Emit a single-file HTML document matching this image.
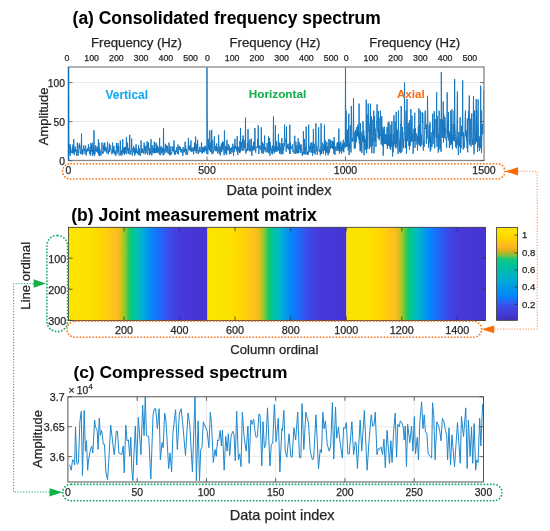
<!DOCTYPE html>
<html><head><meta charset="utf-8"><style>html,body{margin:0;padding:0;background:#fff;overflow:hidden}svg{display:block}</style></head><body>
<svg width="550" height="531" viewBox="0 0 550 531" font-family="'Liberation Sans', Arial, Helvetica, sans-serif">
<defs>
<clipPath id="clipA"><rect x="68.5" y="67" width="415.8" height="93.5"/></clipPath>
<clipPath id="clipC"><rect x="67.9" y="396.8" width="415.6" height="85.2"/></clipPath>
<linearGradient id="gm" x1="0" y1="0" x2="1" y2="0"><stop offset="0.0" stop-color="#FAE400"/><stop offset="0.083" stop-color="#FCE400"/><stop offset="0.155" stop-color="#FBE200"/><stop offset="0.227" stop-color="#FFD800"/><stop offset="0.285" stop-color="#FFCC10"/><stop offset="0.335" stop-color="#FFC020"/><stop offset="0.35" stop-color="#FBBE20"/><stop offset="0.368" stop-color="#E8C018"/><stop offset="0.386" stop-color="#C0C420"/><stop offset="0.405" stop-color="#90C830"/><stop offset="0.423" stop-color="#50CA48"/><stop offset="0.44" stop-color="#18CC68"/><stop offset="0.455" stop-color="#08C880"/><stop offset="0.473" stop-color="#00C4A0"/><stop offset="0.502" stop-color="#00BCC0"/><stop offset="0.53" stop-color="#00B0D4"/><stop offset="0.566" stop-color="#0098EC"/><stop offset="0.602" stop-color="#0884FA"/><stop offset="0.639" stop-color="#1472FC"/><stop offset="0.675" stop-color="#2862F6"/><stop offset="0.711" stop-color="#3850EE"/><stop offset="0.747" stop-color="#4044E4"/><stop offset="0.805" stop-color="#463ADA"/><stop offset="0.913" stop-color="#4636D6"/><stop offset="1.0" stop-color="#4634D4"/></linearGradient>
<linearGradient id="gc" x1="0" y1="0" x2="0" y2="1"><stop offset="0.0" stop-color="#FFE400"/><stop offset="0.06" stop-color="#FFE000"/><stop offset="0.13" stop-color="#FFD000"/><stop offset="0.18" stop-color="#FFBC20"/><stop offset="0.22" stop-color="#F8B420"/><stop offset="0.265" stop-color="#C8B020"/><stop offset="0.3" stop-color="#80C040"/><stop offset="0.345" stop-color="#10C880"/><stop offset="0.42" stop-color="#00C0A0"/><stop offset="0.49" stop-color="#00B8B8"/><stop offset="0.534" stop-color="#00B0C8"/><stop offset="0.588" stop-color="#00A8D8"/><stop offset="0.642" stop-color="#0098E8"/><stop offset="0.695" stop-color="#0090F0"/><stop offset="0.749" stop-color="#0880F8"/><stop offset="0.803" stop-color="#2864F4"/><stop offset="0.857" stop-color="#3C48E8"/><stop offset="0.91" stop-color="#4040D8"/><stop offset="0.964" stop-color="#4434C8"/><stop offset="1.0" stop-color="#4230B8"/></linearGradient>
</defs>
<style>text{stroke-width:0.25px}text[font-weight="bold"]{stroke-width:0.05px}</style>
<rect width="550" height="531" fill="#fff"/>
<text x="72.6" y="23.8" font-size="17.45" font-weight="bold" fill="#000" stroke="#000">(a) Consolidated frequency spectrum</text>
<text x="136.4" y="47" font-size="13.2" text-anchor="middle" fill="#262626" stroke="#262626">Frequency (Hz)</text>
<text x="275.0" y="47" font-size="13.2" text-anchor="middle" fill="#262626" stroke="#262626">Frequency (Hz)</text>
<text x="414.7" y="47" font-size="13.2" text-anchor="middle" fill="#262626" stroke="#262626">Frequency (Hz)</text>
<text x="66.90" y="61" font-size="8.8" text-anchor="middle" fill="#262626" stroke="#262626">0</text>
<text x="91.65" y="61" font-size="8.8" text-anchor="middle" fill="#262626" stroke="#262626">100</text>
<text x="116.40" y="61" font-size="8.8" text-anchor="middle" fill="#262626" stroke="#262626">200</text>
<text x="141.15" y="61" font-size="8.8" text-anchor="middle" fill="#262626" stroke="#262626">300</text>
<text x="165.90" y="61" font-size="8.8" text-anchor="middle" fill="#262626" stroke="#262626">400</text>
<text x="190.65" y="61" font-size="8.8" text-anchor="middle" fill="#262626" stroke="#262626">500</text>
<text x="207.40" y="61" font-size="8.8" text-anchor="middle" fill="#262626" stroke="#262626">0</text>
<text x="232.15" y="61" font-size="8.8" text-anchor="middle" fill="#262626" stroke="#262626">100</text>
<text x="256.90" y="61" font-size="8.8" text-anchor="middle" fill="#262626" stroke="#262626">200</text>
<text x="281.65" y="61" font-size="8.8" text-anchor="middle" fill="#262626" stroke="#262626">300</text>
<text x="306.40" y="61" font-size="8.8" text-anchor="middle" fill="#262626" stroke="#262626">400</text>
<text x="331.15" y="61" font-size="8.8" text-anchor="middle" fill="#262626" stroke="#262626">500</text>
<text x="346.10" y="61" font-size="8.8" text-anchor="middle" fill="#262626" stroke="#262626">0</text>
<text x="370.85" y="61" font-size="8.8" text-anchor="middle" fill="#262626" stroke="#262626">100</text>
<text x="395.60" y="61" font-size="8.8" text-anchor="middle" fill="#262626" stroke="#262626">200</text>
<text x="420.35" y="61" font-size="8.8" text-anchor="middle" fill="#262626" stroke="#262626">300</text>
<text x="445.10" y="61" font-size="8.8" text-anchor="middle" fill="#262626" stroke="#262626">400</text>
<text x="469.85" y="61" font-size="8.8" text-anchor="middle" fill="#262626" stroke="#262626">500</text>
<line x1="68.5" x2="484.0" y1="121.54" y2="121.54" stroke="#e4e4e4" stroke-width="0.8"/>
<line x1="68.5" x2="484.0" y1="82.58" y2="82.58" stroke="#e4e4e4" stroke-width="0.8"/>
<polyline clip-path="url(#clipA)" points="68.50,64.00 68.78,149.69 69.05,151.45 69.33,150.14 69.61,153.50 69.89,144.04 70.16,155.93 70.44,145.15 70.72,151.42 70.99,152.86 71.27,151.58 71.55,152.79 71.82,150.12 72.10,149.53 72.38,147.23 72.66,153.38 72.93,144.49 73.21,150.74 73.49,152.57 73.76,139.23 74.04,154.73 74.32,154.93 74.59,149.05 74.87,150.60 75.15,146.48 75.42,151.89 75.70,151.67 75.98,149.18 76.26,151.65 76.53,155.59 76.81,152.90 77.09,149.72 77.36,142.58 77.64,148.53 77.92,155.98 78.19,150.11 78.47,153.19 78.75,152.53 79.03,144.62 79.30,148.51 79.58,143.29 79.86,147.57 80.13,146.37 80.41,154.00 80.69,152.85 80.97,153.27 81.24,149.28 81.52,133.46 81.80,154.17 82.07,152.37 82.35,149.54 82.63,154.81 82.90,154.46 83.18,150.23 83.46,147.25 83.73,145.39 84.01,150.86 84.29,148.80 84.57,150.63 84.84,149.99 85.12,154.00 85.40,145.81 85.67,145.70 85.95,150.21 86.23,155.50 86.50,149.49 86.78,149.56 87.06,149.56 87.34,151.45 87.61,148.63 87.89,148.03 88.17,151.10 88.44,144.29 88.72,147.70 89.00,151.00 89.28,150.68 89.55,154.32 89.83,153.22 90.11,146.83 90.38,150.78 90.66,155.53 90.94,142.97 91.21,151.81 91.49,144.87 91.77,150.33 92.05,149.85 92.32,152.10 92.60,155.65 92.88,142.58 93.15,151.92 93.43,146.78 93.71,153.98 93.98,130.27 94.26,155.78 94.54,150.27 94.81,154.53 95.09,153.66 95.37,147.99 95.65,145.48 95.92,150.98 96.20,148.36 96.48,149.50 96.75,151.89 97.03,146.40 97.31,147.34 97.59,152.61 97.86,150.79 98.14,149.28 98.42,139.23 98.69,154.64 98.97,142.58 99.25,156.15 99.52,148.51 99.80,148.86 100.08,152.96 100.36,150.97 100.63,152.43 100.91,155.73 101.19,150.47 101.46,149.12 101.74,149.28 102.02,142.58 102.29,153.80 102.57,153.62 102.85,151.38 103.12,153.45 103.40,151.53 103.68,145.19 103.96,148.69 104.23,142.97 104.51,150.70 104.79,142.58 105.06,151.55 105.34,149.34 105.62,147.23 105.90,148.97 106.17,149.08 106.45,147.83 106.73,153.19 107.00,151.29 107.28,148.61 107.56,141.80 107.83,146.45 108.11,154.33 108.39,151.55 108.66,152.59 108.94,149.52 109.22,151.88 109.50,143.62 109.77,150.13 110.05,145.42 110.33,147.71 110.60,149.27 110.88,149.08 111.16,151.34 111.44,152.72 111.71,153.10 111.99,154.30 112.27,146.22 112.54,142.58 112.82,152.85 113.10,148.75 113.37,151.55 113.65,150.05 113.93,145.88 114.20,153.34 114.48,150.19 114.76,154.45 115.04,152.23 115.31,151.18 115.59,153.03 115.87,155.86 116.14,152.61 116.42,142.97 116.70,148.84 116.97,151.53 117.25,153.48 117.53,146.46 117.81,148.64 118.08,143.06 118.36,151.93 118.64,146.53 118.91,155.03 119.19,155.19 119.47,155.47 119.75,155.02 120.02,152.05 120.30,140.48 120.58,148.10 120.85,155.38 121.13,151.79 121.41,153.46 121.68,150.34 121.96,155.46 122.24,151.54 122.52,144.99 122.79,139.23 123.07,152.44 123.35,147.96 123.62,150.87 123.90,153.78 124.18,147.60 124.45,154.74 124.73,147.94 125.01,146.95 125.28,149.79 125.56,152.55 125.84,146.96 126.12,154.26 126.39,137.28 126.67,148.60 126.95,149.84 127.22,150.35 127.50,142.58 127.78,150.59 128.06,153.29 128.33,151.15 128.61,148.25 128.89,153.95 129.16,148.22 129.44,145.14 129.72,134.79 129.99,154.62 130.27,152.96 130.55,152.10 130.82,150.78 131.10,151.67 131.38,147.19 131.66,138.53 131.93,153.10 132.21,155.41 132.49,153.05 132.76,153.03 133.04,148.26 133.32,152.40 133.59,145.89 133.87,150.01 134.15,149.21 134.43,147.94 134.70,155.66 134.98,149.98 135.26,154.05 135.53,150.11 135.81,147.94 136.09,144.29 136.37,152.68 136.64,148.57 136.92,151.45 137.20,153.31 137.47,152.01 137.75,151.28 138.03,154.46 138.30,150.06 138.58,145.05 138.86,151.86 139.13,155.32 139.41,148.45 139.69,153.34 139.97,154.62 140.24,154.14 140.52,155.55 140.80,151.91 141.07,140.48 141.35,153.02 141.63,148.46 141.91,150.43 142.18,152.40 142.46,150.85 142.74,148.61 143.01,152.62 143.29,151.32 143.57,153.58 143.84,152.72 144.12,142.58 144.40,150.19 144.68,150.99 144.95,145.64 145.23,154.36 145.51,147.26 145.78,146.31 146.06,152.86 146.34,148.47 146.61,147.05 146.89,146.55 147.17,141.18 147.44,154.65 147.72,154.36 148.00,143.99 148.28,147.75 148.55,142.58 148.83,150.16 149.11,147.88 149.38,155.21 149.66,149.05 149.94,152.32 150.22,150.90 150.49,154.19 150.77,146.09 151.05,139.23 151.32,151.28 151.60,151.20 151.88,155.42 152.15,145.11 152.43,151.30 152.71,152.41 152.99,152.51 153.26,147.72 153.54,151.58 153.82,153.06 154.09,143.54 154.37,141.80 154.65,153.41 154.92,148.56 155.20,148.26 155.48,151.74 155.75,152.90 156.03,142.58 156.31,152.65 156.59,152.00 156.86,144.58 157.14,152.17 157.42,152.69 157.69,146.41 157.97,150.71 158.25,149.81 158.53,151.90 158.80,147.71 159.08,154.20 159.36,147.30 159.63,137.90 159.91,152.58 160.19,155.34 160.46,147.12 160.74,147.52 161.02,146.34 161.30,152.63 161.57,153.59 161.85,147.57 162.13,151.83 162.40,147.88 162.68,151.84 162.96,151.65 163.23,155.42 163.51,128.09 163.79,152.42 164.06,154.51 164.34,149.18 164.62,151.05 164.90,152.24 165.17,147.32 165.45,143.83 165.73,150.05 166.00,152.91 166.28,148.71 166.56,145.42 166.83,148.33 167.11,151.69 167.39,145.94 167.67,149.65 167.94,153.60 168.22,153.33 168.50,153.76 168.77,147.87 169.05,142.58 169.33,147.65 169.61,155.10 169.88,150.37 170.16,146.12 170.44,151.14 170.71,155.33 170.99,152.66 171.27,152.60 171.54,153.72 171.82,152.76 172.10,146.66 172.38,149.03 172.65,151.10 172.93,146.83 173.21,146.37 173.48,151.43 173.76,150.03 174.04,140.48 174.31,153.45 174.59,150.99 174.87,154.90 175.14,150.91 175.42,154.28 175.70,151.31 175.98,150.14 176.25,151.65 176.53,147.51 176.81,151.40 177.08,151.29 177.36,153.81 177.64,150.21 177.92,144.53 178.19,146.56 178.47,154.35 178.75,147.55 179.02,148.69 179.30,147.11 179.58,146.06 179.85,149.48 180.13,150.30 180.41,147.13 180.69,148.60 180.96,152.28 181.24,148.88 181.52,152.21 181.79,149.09 182.07,151.10 182.35,152.52 182.62,152.15 182.90,155.87 183.18,147.06 183.45,151.19 183.73,152.32 184.01,151.15 184.29,148.75 184.56,150.63 184.84,152.18 185.12,141.80 185.39,149.96 185.67,146.00 185.95,154.51 186.22,149.85 186.50,150.27 186.78,148.90 187.06,155.00 187.33,152.54 187.61,153.85 187.89,151.75 188.16,146.69 188.44,137.90 188.72,149.17 189.00,146.27 189.27,149.90 189.55,150.16 189.83,145.58 190.10,147.65 190.38,150.91 190.66,147.18 190.93,140.48 191.21,151.71 191.49,149.49 191.76,147.88 192.04,151.61 192.32,148.93 192.60,150.32 192.87,150.95 193.15,147.06 193.43,153.38 193.70,154.34 193.98,149.11 194.26,150.39 194.53,142.58 194.81,149.86 195.09,146.45 195.37,151.08 195.64,136.58 195.92,149.55 196.20,153.19 196.47,151.65 196.75,144.23 197.03,151.33 197.31,151.22 197.58,139.93 197.86,146.06 198.14,154.02 198.41,151.48 198.69,153.12 198.97,152.09 199.24,149.34 199.52,151.42 199.80,146.82 200.07,149.00 200.35,152.01 200.63,151.42 200.91,151.89 201.18,150.27 201.46,142.50 201.74,143.36 202.01,153.61 202.29,148.38 202.57,152.96 202.84,147.09 203.12,149.23 203.40,151.74 203.68,150.18 203.95,147.02 204.23,152.34 204.51,146.94 204.78,150.08 205.06,145.61 205.34,147.83 205.62,149.86 205.89,151.20 206.17,147.68 206.45,147.25 206.72,153.95 207.00,64.00 207.28,119.98 207.55,126.22 207.83,154.33 208.11,138.81 208.38,148.77 208.66,146.50 208.94,142.11 209.22,147.46 209.49,150.41 209.77,130.50 210.05,143.18 210.32,150.24 210.60,151.52 210.88,142.85 211.16,152.28 211.43,144.81 211.71,129.80 211.99,154.17 212.26,142.36 212.54,140.40 212.82,143.91 213.09,149.14 213.37,153.33 213.65,150.98 213.93,149.21 214.20,137.51 214.48,136.35 214.76,150.01 215.03,150.40 215.31,150.86 215.59,145.88 215.86,149.35 216.14,151.30 216.42,150.21 216.69,143.48 216.97,150.50 217.25,147.07 217.53,153.41 217.80,152.45 218.08,151.95 218.36,151.58 218.63,134.87 218.91,145.05 219.19,153.91 219.47,152.82 219.74,149.90 220.02,146.19 220.30,155.41 220.57,147.92 220.85,149.59 221.13,150.49 221.40,143.45 221.68,152.06 221.96,149.47 222.24,149.67 222.51,141.33 222.79,145.10 223.07,149.66 223.34,142.07 223.62,145.20 223.90,150.98 224.17,155.20 224.45,130.50 224.73,144.64 225.00,146.78 225.28,153.39 225.56,146.37 225.84,149.54 226.11,152.27 226.39,146.71 226.67,154.88 226.94,139.81 227.22,146.94 227.50,149.12 227.78,150.25 228.05,150.59 228.33,144.26 228.61,145.79 228.88,150.10 229.16,146.13 229.44,154.21 229.71,149.06 229.99,149.56 230.27,148.00 230.54,150.45 230.82,153.99 231.10,152.19 231.38,151.91 231.65,147.21 231.93,151.93 232.21,152.24 232.48,146.43 232.76,143.70 233.04,145.28 233.31,151.71 233.59,155.71 233.87,147.70 234.15,145.89 234.42,151.64 234.70,145.96 234.98,138.96 235.25,149.08 235.53,148.33 235.81,146.35 236.09,147.04 236.36,146.94 236.64,151.26 236.92,151.11 237.19,136.19 237.47,150.66 237.75,155.00 238.02,146.47 238.30,149.92 238.58,151.34 238.85,147.47 239.13,150.02 239.41,152.99 239.69,148.31 239.96,140.92 240.24,152.48 240.52,127.93 240.79,148.76 241.07,149.66 241.35,147.80 241.62,142.03 241.90,144.52 242.18,150.76 242.46,139.15 242.73,143.11 243.01,135.57 243.29,140.46 243.56,147.82 243.84,150.78 244.12,140.17 244.40,147.52 244.67,143.59 244.95,148.31 245.23,144.88 245.50,117.72 245.78,153.58 246.06,151.13 246.33,151.60 246.61,148.69 246.89,150.53 247.16,150.98 247.44,143.23 247.72,150.54 248.00,129.18 248.27,139.95 248.55,147.64 248.83,149.85 249.10,149.21 249.38,151.25 249.66,150.31 249.94,139.47 250.21,149.54 250.49,145.96 250.77,151.46 251.04,148.44 251.32,138.68 251.60,146.47 251.87,155.80 252.15,149.18 252.43,150.09 252.71,146.17 252.98,150.69 253.26,148.02 253.54,141.92 253.81,148.57 254.09,150.10 254.37,141.51 254.64,149.05 254.92,127.93 255.20,144.53 255.47,151.33 255.75,152.64 256.03,148.05 256.31,147.04 256.58,147.55 256.86,146.66 257.14,147.81 257.41,146.14 257.69,138.96 257.97,147.69 258.25,125.44 258.52,148.18 258.80,154.01 259.08,149.32 259.35,146.28 259.63,148.47 259.91,145.50 260.18,146.97 260.46,149.02 260.74,148.56 261.01,150.28 261.29,127.31 261.57,149.97 261.85,153.10 262.12,144.03 262.40,142.68 262.68,142.18 262.95,153.97 263.23,143.81 263.51,146.66 263.78,152.26 264.06,150.28 264.34,150.01 264.62,135.57 264.89,148.97 265.17,150.13 265.45,150.10 265.72,147.05 266.00,152.40 266.28,151.67 266.56,151.01 266.83,150.00 267.11,143.01 267.39,147.24 267.66,152.32 267.94,146.50 268.22,145.76 268.49,136.35 268.77,153.25 269.05,145.61 269.32,147.69 269.60,138.06 269.88,155.82 270.16,142.16 270.43,151.13 270.71,145.93 270.99,148.45 271.26,147.91 271.54,151.72 271.82,153.43 272.10,151.55 272.37,154.33 272.65,145.52 272.93,151.21 273.20,146.93 273.48,116.48 273.76,151.24 274.03,150.55 274.31,153.40 274.59,146.18 274.87,149.16 275.14,152.05 275.42,125.28 275.70,150.20 275.97,148.78 276.25,149.06 276.53,141.38 276.80,152.02 277.08,147.08 277.36,148.46 277.63,150.59 277.91,145.63 278.19,143.96 278.47,133.77 278.74,150.76 279.02,142.49 279.30,149.85 279.57,153.73 279.85,143.07 280.13,144.34 280.40,151.32 280.68,147.78 280.96,154.19 281.24,148.87 281.51,145.48 281.79,138.04 282.07,154.29 282.34,143.63 282.62,146.05 282.90,153.85 283.18,146.56 283.45,148.91 283.73,150.17 284.01,142.82 284.28,146.39 284.56,124.66 284.84,136.35 285.11,141.75 285.39,141.69 285.67,139.66 285.94,143.18 286.22,151.91 286.50,126.61 286.78,148.28 287.05,148.03 287.33,144.52 287.61,147.06 287.88,148.50 288.16,143.71 288.44,149.49 288.72,147.90 288.99,147.74 289.27,147.34 289.55,153.90 289.82,124.66 290.10,153.80 290.38,142.21 290.65,148.25 290.93,145.87 291.21,147.71 291.49,148.73 291.76,149.10 292.04,148.87 292.32,146.23 292.59,144.38 292.87,151.25 293.15,150.14 293.42,152.27 293.70,151.00 293.98,153.36 294.25,141.10 294.53,138.28 294.81,135.80 295.09,146.19 295.36,154.00 295.64,147.62 295.92,141.76 296.19,152.10 296.47,153.20 296.75,147.87 297.02,145.12 297.30,152.78 297.58,149.45 297.86,153.46 298.13,138.37 298.41,152.83 298.69,150.62 298.96,152.45 299.24,142.20 299.52,148.36 299.79,149.19 300.07,144.75 300.35,145.61 300.63,153.02 300.90,148.16 301.18,144.45 301.46,149.91 301.73,148.88 302.01,154.01 302.29,155.63 302.56,153.92 302.84,151.84 303.12,154.10 303.40,131.20 303.67,145.23 303.95,152.60 304.23,154.56 304.50,139.07 304.78,143.91 305.06,153.65 305.34,146.94 305.61,154.09 305.89,149.47 306.17,126.61 306.44,147.68 306.72,150.29 307.00,154.72 307.27,152.01 307.55,154.91 307.83,154.04 308.11,151.35 308.38,154.31 308.66,124.66 308.94,143.18 309.21,147.72 309.49,146.83 309.77,152.18 310.04,150.18 310.32,146.10 310.60,149.38 310.88,142.77 311.15,152.67 311.43,152.08 311.71,149.08 311.98,142.11 312.26,147.75 312.54,155.68 312.81,145.73 313.09,153.13 313.37,129.18 313.64,142.31 313.92,148.38 314.20,143.82 314.48,153.13 314.75,149.75 315.03,154.46 315.31,148.79 315.58,146.44 315.86,123.26 316.14,140.07 316.41,151.31 316.69,148.99 316.97,146.50 317.25,154.71 317.52,151.45 317.80,149.44 318.08,147.79 318.35,139.92 318.63,127.31 318.91,147.13 319.19,151.72 319.46,149.53 319.74,150.73 320.02,149.37 320.29,155.26 320.57,152.02 320.85,144.25 321.12,123.26 321.40,153.86 321.68,146.86 321.96,151.47 322.23,144.77 322.51,142.64 322.79,145.31 323.06,150.63 323.34,154.01 323.62,147.36 323.89,144.18 324.17,149.76 324.45,124.66 324.73,141.97 325.00,150.91 325.28,140.36 325.56,155.32 325.83,146.21 326.11,150.10 326.39,152.71 326.66,146.35 326.94,141.95 327.22,152.45 327.50,147.64 327.77,146.45 328.05,155.38 328.33,150.45 328.60,152.65 328.88,139.00 329.16,148.34 329.43,153.11 329.71,149.95 329.99,139.66 330.26,148.81 330.54,147.22 330.82,140.28 331.10,147.26 331.37,147.77 331.65,146.34 331.93,147.95 332.20,140.89 332.48,148.64 332.76,141.27 333.04,145.98 333.31,149.25 333.59,141.55 333.87,153.89 334.14,137.12 334.42,146.30 334.70,148.87 334.97,154.80 335.25,146.55 335.53,146.29 335.81,148.42 336.08,151.05 336.36,148.08 336.64,146.67 336.91,145.05 337.19,142.74 337.47,149.55 337.74,142.20 338.02,151.07 338.30,142.49 338.57,148.79 338.85,128.55 339.13,146.09 339.41,153.48 339.68,142.86 339.96,148.82 340.24,151.38 340.51,146.80 340.79,141.53 341.07,143.08 341.35,152.80 341.62,153.57 341.90,146.08 342.18,150.33 342.45,147.17 342.73,143.52 343.01,151.15 343.28,139.70 343.56,151.10 343.84,152.32 344.12,147.50 344.39,142.20 344.67,146.91 344.95,143.86 345.22,147.77 345.50,64.00 345.78,142.50 346.05,110.63 346.33,146.85 346.61,135.66 346.88,141.58 347.16,130.36 347.44,140.36 347.72,146.95 347.99,128.93 348.27,150.74 348.55,130.29 348.82,113.71 349.10,155.01 349.38,142.33 349.65,147.82 349.93,149.03 350.21,125.41 350.49,135.17 350.76,141.75 351.04,152.47 351.32,105.96 351.59,122.01 351.87,141.14 352.15,141.70 352.43,138.10 352.70,141.42 352.98,137.44 353.26,127.94 353.53,98.17 353.81,140.48 354.09,142.30 354.36,148.91 354.64,132.83 354.92,131.80 355.19,148.35 355.47,140.42 355.75,129.95 356.03,139.90 356.30,142.38 356.58,134.47 356.86,127.13 357.13,135.92 357.41,126.97 357.69,136.16 357.96,124.55 358.24,137.60 358.52,131.72 358.80,139.49 359.07,103.62 359.35,143.56 359.63,133.51 359.90,143.91 360.18,151.38 360.46,123.20 360.74,150.13 361.01,131.52 361.29,148.29 361.57,142.41 361.84,152.93 362.12,137.92 362.40,133.82 362.67,142.12 362.95,121.12 363.23,132.73 363.50,141.91 363.78,130.44 364.06,155.24 364.34,135.77 364.61,141.39 364.89,149.88 365.17,139.52 365.44,141.80 365.72,139.20 366.00,149.94 366.27,99.72 366.55,153.12 366.83,144.73 367.11,114.42 367.38,144.54 367.66,148.68 367.94,127.33 368.21,103.62 368.49,120.91 368.77,131.32 369.05,129.81 369.32,148.87 369.60,124.02 369.88,124.48 370.15,120.71 370.43,103.62 370.71,147.00 370.98,117.68 371.26,133.86 371.54,116.17 371.81,153.17 372.09,119.54 372.37,143.59 372.65,145.85 372.92,138.01 373.20,141.49 373.48,134.28 373.75,110.63 374.03,153.34 374.31,143.11 374.58,116.18 374.86,136.37 375.14,128.68 375.42,141.43 375.69,134.25 375.97,146.84 376.25,128.86 376.52,121.00 376.80,122.17 377.08,104.40 377.36,125.94 377.63,131.07 377.91,130.87 378.19,138.40 378.46,111.07 378.74,135.24 379.02,118.10 379.29,140.19 379.57,132.37 379.85,130.38 380.12,136.36 380.40,110.63 380.68,125.72 380.96,131.70 381.23,144.62 381.51,132.75 381.79,116.14 382.06,142.99 382.34,132.95 382.62,146.25 382.89,127.21 383.17,155.66 383.45,150.29 383.73,129.58 384.00,140.60 384.28,126.61 384.56,143.78 384.83,134.89 385.11,133.90 385.39,144.09 385.67,142.86 385.94,134.66 386.22,135.54 386.50,134.85 386.77,144.55 387.05,127.07 387.33,148.88 387.60,138.37 387.88,131.59 388.16,122.52 388.44,145.84 388.71,133.78 388.99,121.75 389.27,127.53 389.54,146.39 389.82,139.65 390.10,148.59 390.37,133.74 390.65,149.72 390.93,124.76 391.20,146.93 391.48,146.52 391.76,121.23 392.04,121.76 392.31,143.14 392.59,156.48 392.87,140.35 393.14,152.13 393.42,134.34 393.70,146.55 393.98,115.22 394.25,134.97 394.53,142.60 394.81,144.36 395.08,121.46 395.36,146.71 395.64,143.41 395.91,148.39 396.19,112.03 396.47,142.18 396.75,144.17 397.02,128.98 397.30,147.02 397.58,131.61 397.85,146.06 398.13,153.98 398.41,110.63 398.68,129.83 398.96,131.39 399.24,141.58 399.51,151.62 399.79,150.14 400.07,139.20 400.35,153.18 400.62,124.12 400.90,125.46 401.18,105.96 401.45,117.55 401.73,152.35 402.01,150.39 402.29,126.89 402.56,139.53 402.84,132.27 403.12,147.21 403.39,139.05 403.67,148.34 403.95,139.17 404.22,139.74 404.50,82.58 404.78,114.31 405.06,129.47 405.33,137.98 405.61,147.95 405.89,123.33 406.16,110.63 406.44,153.68 406.72,134.78 406.99,98.95 407.27,129.16 407.55,141.23 407.82,129.26 408.10,124.44 408.38,122.85 408.66,136.60 408.93,146.00 409.21,128.64 409.49,149.50 409.76,120.14 410.04,137.83 410.32,145.63 410.60,139.58 410.87,109.08 411.15,139.44 411.43,141.58 411.70,130.29 411.98,115.64 412.26,130.18 412.53,141.11 412.81,134.01 413.09,153.64 413.37,147.67 413.64,138.68 413.92,128.87 414.20,141.38 414.47,125.66 414.75,112.75 415.03,147.86 415.30,128.22 415.58,131.71 415.86,140.89 416.13,134.81 416.41,133.55 416.69,135.79 416.97,144.57 417.24,138.31 417.52,150.53 417.80,135.47 418.07,138.67 418.35,126.40 418.63,143.52 418.90,108.30 419.18,144.42 419.46,145.69 419.74,124.32 420.01,136.87 420.29,110.63 420.57,146.71 420.84,139.19 421.12,136.48 421.40,134.71 421.68,145.34 421.95,144.38 422.23,112.19 422.51,122.91 422.78,113.33 423.06,122.99 423.34,150.61 423.61,140.72 423.89,139.71 424.17,146.75 424.44,130.34 424.72,127.11 425.00,113.58 425.28,110.63 425.55,128.82 425.83,127.84 426.11,129.02 426.38,143.83 426.66,124.36 426.94,132.67 427.21,138.29 427.49,95.83 427.77,113.00 428.05,134.53 428.32,140.07 428.60,147.64 428.88,136.93 429.15,124.95 429.43,125.60 429.71,143.03 429.99,122.35 430.26,151.49 430.54,136.41 430.82,149.52 431.09,132.27 431.37,144.11 431.65,143.16 431.92,147.04 432.20,142.66 432.48,132.15 432.75,113.75 433.03,144.06 433.31,137.56 433.59,129.97 433.86,134.41 434.14,111.18 434.42,113.32 434.69,148.19 434.97,126.29 435.25,121.12 435.52,120.69 435.80,119.26 436.08,137.87 436.36,136.83 436.63,92.32 436.91,146.57 437.19,116.02 437.46,127.90 437.74,137.79 438.02,143.83 438.30,152.62 438.57,133.67 438.85,133.03 439.13,110.63 439.40,131.94 439.68,146.31 439.96,149.64 440.23,119.01 440.51,147.27 440.79,139.50 441.06,151.77 441.34,71.91 441.62,129.01 441.90,137.99 442.17,131.43 442.45,119.70 442.73,137.38 443.00,127.70 443.28,101.52 443.56,142.42 443.83,114.53 444.11,122.58 444.39,126.09 444.67,138.00 444.94,117.32 445.22,131.35 445.50,127.64 445.77,138.94 446.05,139.33 446.33,138.23 446.61,147.66 446.88,134.61 447.16,92.32 447.44,134.33 447.71,124.21 447.99,138.02 448.27,133.68 448.54,112.38 448.82,140.61 449.10,131.12 449.38,147.84 449.65,138.46 449.93,133.39 450.21,145.26 450.48,143.81 450.76,110.73 451.04,113.55 451.31,124.44 451.59,144.38 451.87,109.39 452.14,142.53 452.42,149.22 452.70,135.42 452.98,141.08 453.25,123.96 453.53,139.03 453.81,139.59 454.08,110.63 454.36,141.28 454.64,79.08 454.92,122.55 455.19,129.74 455.47,136.31 455.75,146.77 456.02,139.97 456.30,148.40 456.58,140.18 456.85,128.10 457.13,110.63 457.41,91.62 457.69,145.03 457.96,136.67 458.24,152.25 458.52,155.11 458.79,132.03 459.07,140.05 459.35,140.88 459.62,146.94 459.90,131.39 460.18,117.27 460.45,152.91 460.73,131.38 461.01,148.30 461.29,125.71 461.56,135.49 461.84,133.21 462.12,136.35 462.39,134.41 462.67,80.40 462.95,140.67 463.23,149.44 463.50,132.60 463.78,146.01 464.06,145.72 464.33,147.69 464.61,140.80 464.89,132.72 465.16,118.04 465.44,110.63 465.72,136.28 466.00,136.23 466.27,130.55 466.55,140.74 466.83,135.16 467.10,148.16 467.38,118.48 467.66,152.22 467.93,143.98 468.21,137.08 468.49,111.19 468.76,120.92 469.04,110.63 469.32,95.60 469.60,144.74 469.87,139.27 470.15,142.12 470.43,130.27 470.70,118.75 470.98,146.60 471.26,140.38 471.54,115.88 471.81,113.27 472.09,127.92 472.37,144.49 472.64,142.14 472.92,139.15 473.20,145.03 473.47,96.22 473.75,137.25 474.03,154.22 474.31,145.33 474.58,110.63 474.86,131.41 475.14,140.81 475.41,144.24 475.69,130.07 475.97,113.32 476.24,98.95 476.52,142.05 476.80,110.63 477.07,122.44 477.35,132.08 477.63,151.91 477.91,120.62 478.18,99.49 478.46,141.82 478.74,141.89 479.01,147.28 479.29,138.81 479.57,150.88 479.85,136.22 480.12,148.30 480.40,134.48 480.68,85.70 480.95,147.95 481.23,110.63 481.51,152.83 481.78,140.51 482.06,128.77 482.34,126.50 482.62,124.32 482.89,134.36 483.17,124.01 483.45,104.09 483.72,90.38" fill="none" stroke="#1576c0" stroke-width="0.95" stroke-linejoin="round"/>
<rect x="68.5" y="67.0" width="415.50" height="93.50" fill="none" stroke="#8a8a8a" stroke-width="1.35"/>
<line x1="68.5" x2="68.5" y1="67.0" y2="160.5" stroke="#1172bb" stroke-width="1.3"/>
<line x1="68.5" x2="72.5" y1="160.50" y2="160.50" stroke="#555" stroke-width="0.8"/>
<line x1="480.0" x2="484.0" y1="160.50" y2="160.50" stroke="#555" stroke-width="0.8"/>
<text x="65" y="164.70" font-size="10.3" text-anchor="end" fill="#262626" stroke="#262626">0</text>
<line x1="68.5" x2="72.5" y1="121.54" y2="121.54" stroke="#555" stroke-width="0.8"/>
<line x1="480.0" x2="484.0" y1="121.54" y2="121.54" stroke="#555" stroke-width="0.8"/>
<text x="65" y="125.74" font-size="10.3" text-anchor="end" fill="#262626" stroke="#262626">50</text>
<line x1="68.5" x2="72.5" y1="82.58" y2="82.58" stroke="#555" stroke-width="0.8"/>
<line x1="480.0" x2="484.0" y1="82.58" y2="82.58" stroke="#555" stroke-width="0.8"/>
<text x="65" y="86.78" font-size="10.3" text-anchor="end" fill="#262626" stroke="#262626">100</text>
<line x1="207.00" x2="207.00" y1="160.5" y2="156.5" stroke="#555" stroke-width="0.8"/>
<line x1="345.50" x2="345.50" y1="160.5" y2="156.5" stroke="#555" stroke-width="0.8"/>
<text x="68.50" y="174" font-size="10.5" text-anchor="middle" fill="#262626" stroke="#262626">0</text>
<text x="207.00" y="174" font-size="10.5" text-anchor="middle" fill="#262626" stroke="#262626">500</text>
<text x="345.50" y="174" font-size="10.5" text-anchor="middle" fill="#262626" stroke="#262626">1000</text>
<text x="484.00" y="174" font-size="10.5" text-anchor="middle" fill="#262626" stroke="#262626">1500</text>
<text transform="translate(47.9,116.4) rotate(-90)" font-size="13" text-anchor="middle" fill="#262626" stroke="#262626">Amplitude</text>
<text x="279" y="194.7" font-size="14.5" text-anchor="middle" fill="#262626" stroke="#262626">Data point index</text>
<text x="105.5" y="98.5" font-size="11.95" font-weight="bold" fill="#14A9EC" stroke="#14A9EC">Vertical</text>
<text x="248.8" y="98.3" font-size="11.75" font-weight="bold" fill="#12AF4C" stroke="#12AF4C">Horizontal</text>
<text x="396.9" y="98.3" font-size="11.6" font-weight="bold" fill="#F86E18" stroke="#F86E18">Axial</text>
<rect x="62.6" y="163.7" width="442.3" height="15.3" rx="7.6" ry="7.6" fill="none" stroke="#F7781E" stroke-width="1.6" stroke-dasharray="1.6 1.6"/>
<polygon points="505,171.4 518,167.2 518,175.5" fill="#FF6A00"/>
<polyline points="518,171.4 537.2,171.4 537.2,329.2 494,329.2" fill="none" stroke="#F7781E" stroke-width="1.3" stroke-dasharray="1.3 1.5" opacity="0.6"/>
<polygon points="481.6,329.2 494.2,325.4 494.2,333.2" fill="#FF6A00"/>
<text x="71.2" y="220.8" font-size="17.55" font-weight="bold" fill="#000" stroke="#000">(b) Joint measurement matrix</text>
<rect x="68.50" y="227.3" width="139.02" height="93.20" fill="url(#gm)"/>
<rect x="207.47" y="227.3" width="139.02" height="93.20" fill="url(#gm)"/>
<rect x="346.43" y="227.3" width="139.02" height="93.20" fill="url(#gm)"/>
<rect x="68.5" y="227.3" width="416.90" height="93.20" fill="none" stroke="#333" stroke-width="0.8"/>
<line x1="68.5" x2="72.5" y1="258.21" y2="258.21" stroke="#333" stroke-width="0.8"/>
<line x1="481.4" x2="485.4" y1="258.21" y2="258.21" stroke="#333" stroke-width="0.8"/>
<text x="66.3" y="262.81" font-size="10.8" text-anchor="end" fill="#262626" stroke="#262626">100</text>
<line x1="68.5" x2="72.5" y1="289.28" y2="289.28" stroke="#333" stroke-width="0.8"/>
<line x1="481.4" x2="485.4" y1="289.28" y2="289.28" stroke="#333" stroke-width="0.8"/>
<text x="66.3" y="293.88" font-size="10.8" text-anchor="end" fill="#262626" stroke="#262626">200</text>
<line x1="68.5" x2="72.5" y1="320.34" y2="320.34" stroke="#333" stroke-width="0.8"/>
<line x1="481.4" x2="485.4" y1="320.34" y2="320.34" stroke="#333" stroke-width="0.8"/>
<text x="66.3" y="324.94" font-size="10.8" text-anchor="end" fill="#262626" stroke="#262626">300</text>
<line x1="123.97" x2="123.97" y1="320.5" y2="316.5" stroke="#333" stroke-width="0.8"/>
<line x1="123.97" x2="123.97" y1="227.3" y2="231.3" stroke="#333" stroke-width="0.8"/>
<text x="123.97" y="333.8" font-size="10.8" text-anchor="middle" fill="#262626" stroke="#262626">200</text>
<line x1="179.53" x2="179.53" y1="320.5" y2="316.5" stroke="#333" stroke-width="0.8"/>
<line x1="179.53" x2="179.53" y1="227.3" y2="231.3" stroke="#333" stroke-width="0.8"/>
<text x="179.53" y="333.8" font-size="10.8" text-anchor="middle" fill="#262626" stroke="#262626">400</text>
<line x1="235.10" x2="235.10" y1="320.5" y2="316.5" stroke="#333" stroke-width="0.8"/>
<line x1="235.10" x2="235.10" y1="227.3" y2="231.3" stroke="#333" stroke-width="0.8"/>
<text x="235.10" y="333.8" font-size="10.8" text-anchor="middle" fill="#262626" stroke="#262626">600</text>
<line x1="290.66" x2="290.66" y1="320.5" y2="316.5" stroke="#333" stroke-width="0.8"/>
<line x1="290.66" x2="290.66" y1="227.3" y2="231.3" stroke="#333" stroke-width="0.8"/>
<text x="290.66" y="333.8" font-size="10.8" text-anchor="middle" fill="#262626" stroke="#262626">800</text>
<line x1="346.23" x2="346.23" y1="320.5" y2="316.5" stroke="#333" stroke-width="0.8"/>
<line x1="346.23" x2="346.23" y1="227.3" y2="231.3" stroke="#333" stroke-width="0.8"/>
<text x="346.23" y="333.8" font-size="10.8" text-anchor="middle" fill="#262626" stroke="#262626">1000</text>
<line x1="401.80" x2="401.80" y1="320.5" y2="316.5" stroke="#333" stroke-width="0.8"/>
<line x1="401.80" x2="401.80" y1="227.3" y2="231.3" stroke="#333" stroke-width="0.8"/>
<text x="401.80" y="333.8" font-size="10.8" text-anchor="middle" fill="#262626" stroke="#262626">1200</text>
<line x1="457.36" x2="457.36" y1="320.5" y2="316.5" stroke="#333" stroke-width="0.8"/>
<line x1="457.36" x2="457.36" y1="227.3" y2="231.3" stroke="#333" stroke-width="0.8"/>
<text x="457.36" y="333.8" font-size="10.8" text-anchor="middle" fill="#262626" stroke="#262626">1400</text>
<rect x="496.6" y="227.4" width="20.8" height="92.9" fill="url(#gc)" stroke="#333" stroke-width="0.8"/>
<line x1="514.4" x2="517.4" y1="235" y2="235" stroke="#333" stroke-width="0.8"/>
<text x="521.9" y="238.3" font-size="9.6" fill="#262626" stroke="#262626">1</text>
<line x1="514.4" x2="517.4" y1="252.9" y2="252.9" stroke="#333" stroke-width="0.8"/>
<text x="521.9" y="256.2" font-size="9.6" fill="#262626" stroke="#262626">0.8</text>
<line x1="514.4" x2="517.4" y1="269.9" y2="269.9" stroke="#333" stroke-width="0.8"/>
<text x="521.9" y="273.2" font-size="9.6" fill="#262626" stroke="#262626">0.6</text>
<line x1="514.4" x2="517.4" y1="287" y2="287" stroke="#333" stroke-width="0.8"/>
<text x="521.9" y="290.3" font-size="9.6" fill="#262626" stroke="#262626">0.4</text>
<line x1="514.4" x2="517.4" y1="304.4" y2="304.4" stroke="#333" stroke-width="0.8"/>
<text x="521.9" y="307.7" font-size="9.6" fill="#262626" stroke="#262626">0.2</text>
<text transform="translate(29.7,275.8) rotate(-90)" font-size="13.1" text-anchor="middle" fill="#262626" stroke="#262626">Line ordinal</text>
<text x="274.3" y="354.4" font-size="13.1" text-anchor="middle" fill="#262626" stroke="#262626">Column ordinal</text>
<rect x="46.9" y="235.5" width="20.7" height="96.1" rx="10.3" ry="10.3" fill="none" stroke="#12A964" stroke-width="1.6" stroke-dasharray="1.6 1.6"/>
<rect x="67.0" y="321.3" width="414.6" height="16.0" rx="8.0" ry="8.0" fill="none" stroke="#F7781E" stroke-width="1.6" stroke-dasharray="1.6 1.6"/>
<polygon points="46,283.4 33.6,279.3 33.6,287.8" fill="#14B04A"/>
<polyline points="33.6,283.6 13.6,283.6 13.6,492 49.5,492" fill="none" stroke="#12A964" stroke-width="1.0" stroke-dasharray="1.2 1.6"/>
<polygon points="62.5,492.2 49.5,488.3 49.5,496.4" fill="#14B04A"/>
<text x="73.4" y="378.3" font-size="17.35" font-weight="bold" fill="#000" stroke="#000">(c) Compressed spectrum</text>
<text x="68.4" y="393.8" font-size="10.3" fill="#262626" stroke="#262626">×</text><text x="76.8" y="393.8" font-size="10.3" fill="#262626" stroke="#262626">10</text><text x="88.4" y="388.6" font-size="7.6" fill="#262626" stroke="#262626">4</text>
<line x1="137.17" x2="137.17" y1="396.8" y2="482.0" stroke="#e4e4e4" stroke-width="0.8"/>
<line x1="206.43" x2="206.43" y1="396.8" y2="482.0" stroke="#e4e4e4" stroke-width="0.8"/>
<line x1="275.70" x2="275.70" y1="396.8" y2="482.0" stroke="#e4e4e4" stroke-width="0.8"/>
<line x1="344.97" x2="344.97" y1="396.8" y2="482.0" stroke="#e4e4e4" stroke-width="0.8"/>
<line x1="414.23" x2="414.23" y1="396.8" y2="482.0" stroke="#e4e4e4" stroke-width="0.8"/>
<line x1="67.9" x2="483.5" y1="456.60" y2="456.60" stroke="#e4e4e4" stroke-width="0.8"/>
<line x1="67.9" x2="483.5" y1="426.70" y2="426.70" stroke="#e4e4e4" stroke-width="0.8"/>
<polyline clip-path="url(#clipC)" points="69.12,465.06 70.33,466.79 71.20,470.26 72.59,459.86 73.80,460.72 74.67,465.06 75.53,426.93 76.75,463.32 77.79,464.19 78.48,462.46 79.86,421.73 81.25,411.33 82.46,475.46 84.20,410.46 85.41,451.19 86.45,440.79 87.66,470.26 88.53,459.86 90.26,451.19 91.65,445.99 92.86,452.93 94.60,420.00 95.46,426.93 97.20,430.40 98.06,449.46 99.28,418.26 100.32,435.59 101.53,430.40 102.40,435.59 103.26,444.26 104.47,444.26 105.86,471.99 107.59,479.79 109.33,451.19 110.71,425.20 111.93,435.59 113.14,445.99 114.18,454.66 115.39,442.53 116.26,431.26 117.47,431.26 118.86,452.93 120.59,453.79 121.81,454.66 123.19,445.99 124.23,472.86 125.79,425.20 127.01,440.79 128.39,439.93 129.78,456.39 130.82,437.33 131.86,470.26 132.90,480.66 133.94,454.66 135.32,426.06 136.71,465.06 138.33,417.40 140.93,454.66 142.67,405.27 144.05,435.59 145.27,396.60 146.48,435.59 148.73,436.46 150.81,478.92 153.06,414.80 154.45,408.73 155.66,408.73 157.40,428.66 159.13,408.73 160.34,459.86 162.08,442.53 163.12,447.73 164.68,413.06 166.06,421.73 168.66,468.52 170.05,452.93 171.61,471.99 172.99,432.13 175.59,409.60 177.33,449.46 179.41,413.06 181.14,408.73 182.87,425.20 185.47,455.53 188.07,413.06 189.81,425.20 192.41,471.99 195.01,396.60 196.39,480.66 198.12,420.86 199.51,480.66 200.72,449.46 201.94,447.73 203.32,421.73 207.20,431.26 208.93,447.73 210.32,412.20 211.53,423.46 213.27,462.46 215.00,449.46 216.21,456.39 217.60,439.93 218.81,440.79 220.20,430.40 221.41,445.99 222.45,430.40 224.18,470.26 225.74,436.46 227.13,451.19 228.34,433.86 229.73,455.53 231.12,435.59 232.85,431.26 234.06,434.73 235.28,460.72 236.66,411.33 238.40,459.86 239.78,453.79 240.99,466.79 242.38,412.20 244.11,437.33 246.19,451.19 247.93,426.06 249.14,463.32 250.87,420.00 252.26,424.33 253.65,419.13 254.86,430.40 256.07,437.33 257.46,436.46 258.85,413.93 260.06,414.80 261.79,465.92 263.01,421.73 264.39,447.73 265.78,444.26 267.51,407.86 269.94,465.92 271.32,444.26 272.71,443.39 274.33,404.40 276.07,441.66 278.32,418.26 279.88,471.99 281.79,428.66 282.48,430.40 283.86,410.46 285.25,451.19 286.81,457.26 289.06,433.86 290.80,456.39 292.18,457.26 293.92,427.80 295.65,439.93 297.73,412.20 299.46,457.26 300.85,458.12 302.06,403.53 303.80,449.46 305.88,412.20 307.26,418.26 308.47,422.60 310.21,451.19 312.46,459.86 313.67,458.12 315.93,414.80 318.53,468.52 320.26,449.46 321.47,452.93 322.86,412.20 324.07,428.66 325.46,420.86 327.19,444.26 329.27,451.19 330.66,445.99 332.39,402.67 333.78,458.99 335.51,407.00 336.72,438.19 338.46,426.93 339.67,439.06 342.33,458.12 343.55,427.80 344.93,428.66 346.32,422.60 347.88,453.79 349.27,453.79 351.86,421.73 353.60,454.66 355.33,441.66 356.20,443.39 357.41,468.52 360.18,420.00 361.74,451.19 364.34,410.46 367.12,470.26 369.20,439.06 371.28,414.80 372.66,426.06 374.05,425.20 375.26,412.20 376.99,454.66 378.21,448.59 379.59,449.46 380.98,446.86 382.54,454.66 383.93,439.06 385.31,467.66 387.05,430.40 389.47,463.32 390.86,440.79 392.07,462.46 393.46,433.86 395.19,413.06 396.58,457.26 397.79,424.33 399.01,426.93 400.39,420.86 401.78,422.60 403.16,426.93 404.20,439.93 405.24,426.06 406.46,466.79 407.67,424.33 409.81,442.53 411.55,426.06 412.93,451.19 414.32,416.53 415.53,453.79 417.27,437.33 418.48,459.86 419.86,421.73 421.60,401.80 422.98,428.66 424.20,414.80 425.41,432.13 426.80,432.99 428.18,453.79 430.26,456.39 431.65,458.12 432.52,402.67 433.73,414.80 435.12,459.86 436.85,421.73 438.58,426.06 439.80,431.26 441.01,440.79 442.40,418.26 443.78,420.86 445.51,430.40 446.73,435.59 447.59,459.86 448.98,427.80 450.54,465.06 451.93,434.73 454.53,466.79 457.47,422.60 460.25,463.32 461.46,416.53 463.54,436.46 465.79,407.86 467.18,468.52 468.39,420.00 470.12,456.39 471.51,426.93 472.72,463.32 474.11,423.46 475.67,470.26 476.71,459.86 478.10,462.46 479.66,418.26 480.87,445.99 482.60,404.40 483.12,411.33" fill="none" stroke="#1f87cc" stroke-width="1.0" stroke-linejoin="round"/>
<rect x="67.9" y="396.8" width="415.60" height="85.20" fill="none" stroke="#404040" stroke-width="0.9"/>
<line x1="67.9" x2="71.9" y1="456.60" y2="456.60" stroke="#444" stroke-width="0.8"/>
<line x1="479.5" x2="483.5" y1="456.60" y2="456.60" stroke="#444" stroke-width="0.8"/>
<text x="64.6" y="461.00" font-size="10.7" text-anchor="end" fill="#262626" stroke="#262626">3.6</text>
<line x1="67.9" x2="71.9" y1="426.70" y2="426.70" stroke="#444" stroke-width="0.8"/>
<line x1="479.5" x2="483.5" y1="426.70" y2="426.70" stroke="#444" stroke-width="0.8"/>
<text x="64.6" y="431.10" font-size="10.7" text-anchor="end" fill="#262626" stroke="#262626">3.65</text>
<line x1="67.9" x2="71.9" y1="396.80" y2="396.80" stroke="#444" stroke-width="0.8"/>
<line x1="479.5" x2="483.5" y1="396.80" y2="396.80" stroke="#444" stroke-width="0.8"/>
<text x="64.6" y="401.20" font-size="10.7" text-anchor="end" fill="#262626" stroke="#262626">3.7</text>
<text x="67.90" y="495.7" font-size="10.4" text-anchor="middle" fill="#262626" stroke="#262626">0</text>
<line x1="137.17" x2="137.17" y1="482.0" y2="478.0" stroke="#444" stroke-width="0.8"/>
<line x1="137.17" x2="137.17" y1="396.8" y2="400.8" stroke="#444" stroke-width="0.8"/>
<text x="137.17" y="495.7" font-size="10.4" text-anchor="middle" fill="#262626" stroke="#262626">50</text>
<line x1="206.43" x2="206.43" y1="482.0" y2="478.0" stroke="#444" stroke-width="0.8"/>
<line x1="206.43" x2="206.43" y1="396.8" y2="400.8" stroke="#444" stroke-width="0.8"/>
<text x="206.43" y="495.7" font-size="10.4" text-anchor="middle" fill="#262626" stroke="#262626">100</text>
<line x1="275.70" x2="275.70" y1="482.0" y2="478.0" stroke="#444" stroke-width="0.8"/>
<line x1="275.70" x2="275.70" y1="396.8" y2="400.8" stroke="#444" stroke-width="0.8"/>
<text x="275.70" y="495.7" font-size="10.4" text-anchor="middle" fill="#262626" stroke="#262626">150</text>
<line x1="344.97" x2="344.97" y1="482.0" y2="478.0" stroke="#444" stroke-width="0.8"/>
<line x1="344.97" x2="344.97" y1="396.8" y2="400.8" stroke="#444" stroke-width="0.8"/>
<text x="344.97" y="495.7" font-size="10.4" text-anchor="middle" fill="#262626" stroke="#262626">200</text>
<line x1="414.23" x2="414.23" y1="482.0" y2="478.0" stroke="#444" stroke-width="0.8"/>
<line x1="414.23" x2="414.23" y1="396.8" y2="400.8" stroke="#444" stroke-width="0.8"/>
<text x="414.23" y="495.7" font-size="10.4" text-anchor="middle" fill="#262626" stroke="#262626">250</text>
<text x="483.50" y="495.7" font-size="10.4" text-anchor="middle" fill="#262626" stroke="#262626">300</text>
<text transform="translate(41.9,439.0) rotate(-90)" font-size="13" text-anchor="middle" fill="#262626" stroke="#262626">Amplitude</text>
<text x="282.2" y="519.7" font-size="14.5" text-anchor="middle" fill="#262626" stroke="#262626">Data point index</text>
<rect x="62.7" y="484.4" width="439.3" height="16.3" rx="8.1" ry="8.1" fill="none" stroke="#12A964" stroke-width="1.6" stroke-dasharray="1.6 1.6"/>
</svg>
</body></html>
